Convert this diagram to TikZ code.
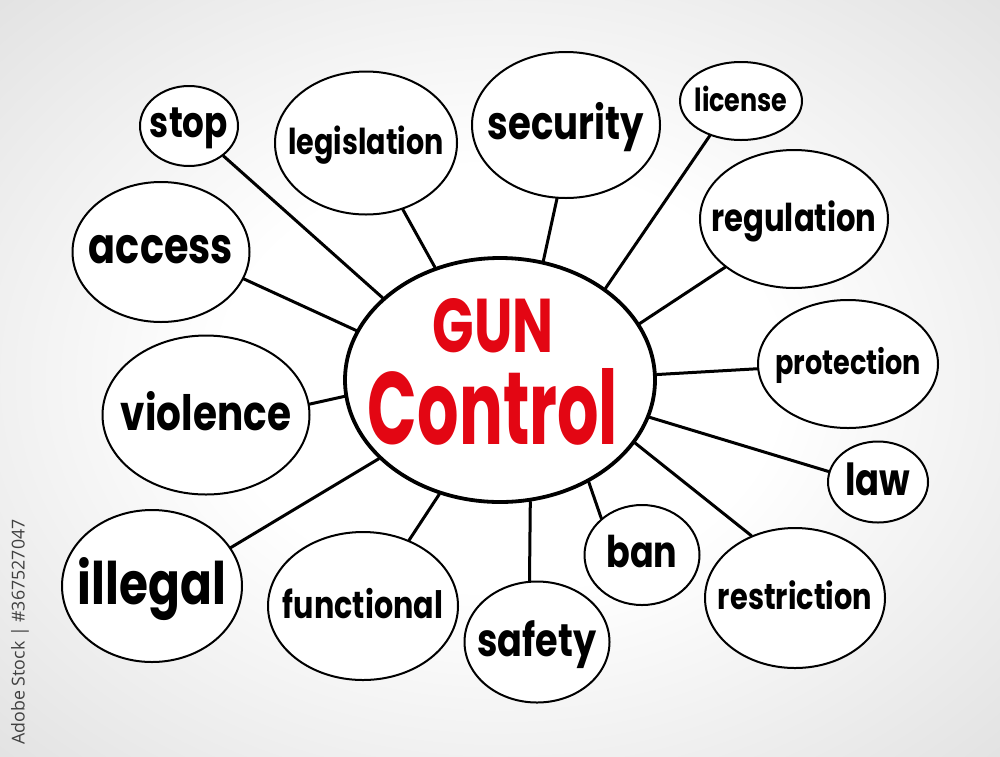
\documentclass[tikz,border=0pt]{standalone}
\usepackage{graphicx}
\usepackage{fontspec}
\setmainfont{Poppins}
\newfontfamily\stockfont{Open Sans}
\usetikzlibrary{shapes.geometric}
\definecolor{gunred}{HTML}{E30613}
\definecolor{bgedge}{HTML}{E2E2E2}
\newcommand\fitw[2]{\smash{\makebox[0pt]{\raisebox{-0.4\height}{\resizebox{#1pt}{!}{\scalebox{1}[1.25]{#2}}}}}}
\pgfdeclareradialshading{bgshade}{\pgfpoint{0bp}{0bp}}{color(0bp)=(white); color(14bp)=(white); color(36bp)=(bgedge); color(50bp)=(bgedge)}
\tikzset{
  bub/.style={ellipse, draw=black, line width=2pt, fill=white, inner sep=0pt, font=\bfseries},
  hub/.style={ellipse, draw=black, line width=3.8pt, fill=white, inner sep=0pt},
  link/.style={draw=black, line width=3pt, line cap=round}
}
\begin{document}
\begin{tikzpicture}[x=1pt,y=-1pt]
\useasboundingbox (0,0) rectangle (1000,756);
\shade[shading=bgshade] (0,0) rectangle (1000,756);

% centre
\node[hub, minimum width=310pt, minimum height=244pt] (gc) at (500,380) {};
\node[font=\bfseries, text=gunred, inner sep=0pt] (gunt) at (493,326) {\resizebox{121pt}{54pt}{GUN}};
\node[font=\bfseries, text=gunred, inner sep=0pt] (ctrl) at (493,407) {\resizebox{250pt}{76pt}{Control}};

% satellites
\node[bub, minimum width=98pt, minimum height=80pt] (stop) at (189,126) {\fitw{78}{stop}};
\node[bub, minimum width=182pt, minimum height=143pt] (leg) at (366,143) {\fitw{155}{legislation}};
\node[bub, minimum width=188pt, minimum height=146pt] (sec) at (566,125) {\fitw{156}{security}};
\node[bub, minimum width=122pt, minimum height=78pt] (lic) at (741,101) {\fitw{93}{license}};
\node[bub, minimum width=188pt, minimum height=138pt] (reg) at (794,219) {\fitw{165}{regulation}};
\node[bub, minimum width=177pt, minimum height=140pt] (acc) at (161,252) {\fitw{144}{access}};
\node[bub, minimum width=180pt, minimum height=128pt] (prot) at (848,364) {\fitw{146}{protection}};
\node[bub, minimum width=207pt, minimum height=159pt] (vio) at (206,415) {\fitw{170}{violence}};
\node[bub, minimum width=100pt, minimum height=81pt] (law) at (878,482) {\fitw{65}{law}};
\node[bub, minimum width=180pt, minimum height=152pt] (ill) at (152,586) {\fitw{148}{illegal}};
\node[bub, minimum width=190pt, minimum height=148pt] (fun) at (363,606) {\fitw{160}{functional}};
\node[bub, minimum width=145pt, minimum height=121pt] (saf) at (537,642) {\fitw{119}{safety}};
\node[bub, minimum width=115pt, minimum height=100pt] (ban) at (642,555) {\fitw{71}{ban}};
\node[bub, minimum width=180pt, minimum height=140pt] (res) at (795,598) {\fitw{154}{restriction}};

% connectors
\draw[link] (stop.-41) -- (gc.145.7);
\draw[link] (leg.-61) -- (gc.120.6);
\draw[link] (sec.-97.8) -- (gc.70);
\draw[link] (lic.-132.6) -- (gc.41.4);
\draw[link] (reg.-145.8) -- (gc.22.8);
\draw[link] (acc.-18.6) -- (gc.161);
\draw[link] (prot.183) -- (gc.2.6);
\draw[link] (vio.6.3) -- (gc.186.6);
\draw[link] (law.168) -- (gc.-14.2);
\draw[link] (ill.26) -- (gc.213.3);
\draw[link] (fun.55.3) -- (gc.-118.5);
\draw[link] (saf.97.7) -- (gc.-76.2);
\draw[link] (ban.138.3) -- (gc.-49.2);
\draw[link] (res.125.8) -- (gc.-25.6);

% stock credit
\node[rotate=90, text=black!75, font=\stockfont, inner sep=0pt] (credit) at (20,632) {\resizebox{225pt}{!}{Adobe Stock | \#367527047}};
\end{tikzpicture}
\end{document}
